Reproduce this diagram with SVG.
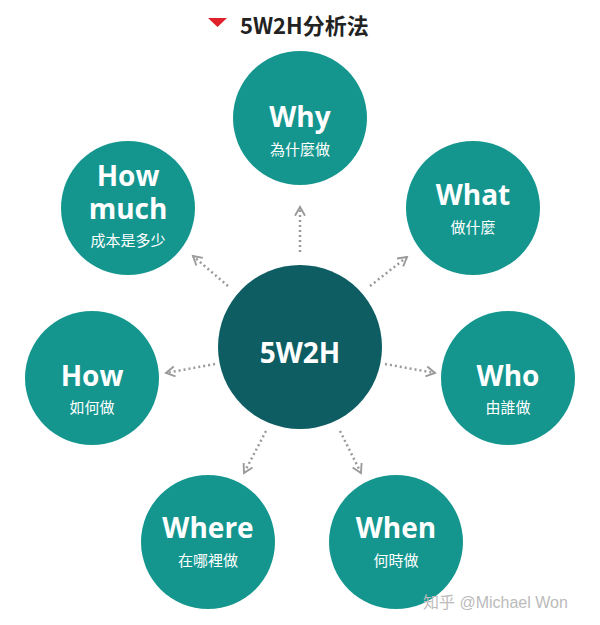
<svg xmlns="http://www.w3.org/2000/svg" width="600" height="625" viewBox="0 0 600 625">
<style>
.n{fill:#14968f}
.en{font-family:"Open Sans","Noto Sans",sans-serif;font-weight:bold;fill:#fff;text-anchor:middle;font-size:28px}
.zh{font-family:"Noto Sans CJK TC",sans-serif;fill:#fff;text-anchor:middle;font-size:15px}
.c line{stroke:#9a9a9a;stroke-width:2.5;stroke-dasharray:2 3;marker-end:url(#a)}
</style>
<defs><marker id="a" viewBox="0 0 10 10" refX="8" refY="5" markerWidth="5" markerHeight="5" orient="auto" markerUnits="strokeWidth"><path d="M1 1L8 5L1 9" fill="none" stroke="#9a9a9a" stroke-width="1.5"/></marker></defs>
<rect width="600" height="625" fill="#fff"/>
<g id="title"><path d="M208 18H227L217.5 27Z" fill="#e0202a"/><text x="240" y="34" font-family="'Noto Sans CJK SC',sans-serif" font-weight="bold" font-size="22" fill="#222">5W2H分析法</text></g>
<g class="c" id="connectors">
<line x1="300" y1="252" x2="300" y2="207"/>
<line x1="228" y1="286" x2="193" y2="256"/>
<line x1="370" y1="286" x2="407" y2="257"/>
<line x1="215" y1="364" x2="166" y2="373"/>
<line x1="385" y1="364" x2="435" y2="373"/>
<line x1="266" y1="431" x2="244" y2="473"/>
<line x1="340" y1="431" x2="361" y2="473"/>
</g>
<g id="center"><circle cx="300" cy="347" r="82" fill="#0e5d63"/><text class="en" x="300" y="363" font-size="44">5W2H</text></g>
<g id="why"><circle class="n" cx="300" cy="118" r="67"/><text class="en" x="300" y="127">Why</text><text class="zh" x="300" y="155">為什麼做</text></g>
<g id="what"><circle class="n" cx="473" cy="208" r="67"/><text class="en" x="473" y="205">What</text><text class="zh" x="473" y="233">做什麼</text></g>
<g id="howmuch"><circle class="n" cx="128" cy="208" r="67"/><text class="en" x="128" y="186" font-size="25">How</text><text class="en" x="128" y="219" font-size="25">much</text><text class="zh" x="128" y="246">成本是多少</text></g>
<g id="how"><circle class="n" cx="92" cy="378" r="67"/><text class="en" x="92" y="386">How</text><text class="zh" x="92" y="413">如何做</text></g>
<g id="who"><circle class="n" cx="508" cy="378" r="67"/><text class="en" x="508" y="386">Who</text><text class="zh" x="508" y="413">由誰做</text></g>
<g id="where"><circle class="n" cx="208" cy="542" r="67"/><text class="en" x="208" y="538">Where</text><text class="zh" x="208" y="566">在哪裡做</text></g>
<g id="when"><circle class="n" cx="396" cy="542" r="67"/><text class="en" x="396" y="538">When</text><text class="zh" x="396" y="566">何時做</text></g>
<text x="423" y="608" font-family="'Liberation Sans','Noto Sans CJK SC',sans-serif" font-size="16" fill="#bbb">知乎 @Michael Won</text>
</svg>
